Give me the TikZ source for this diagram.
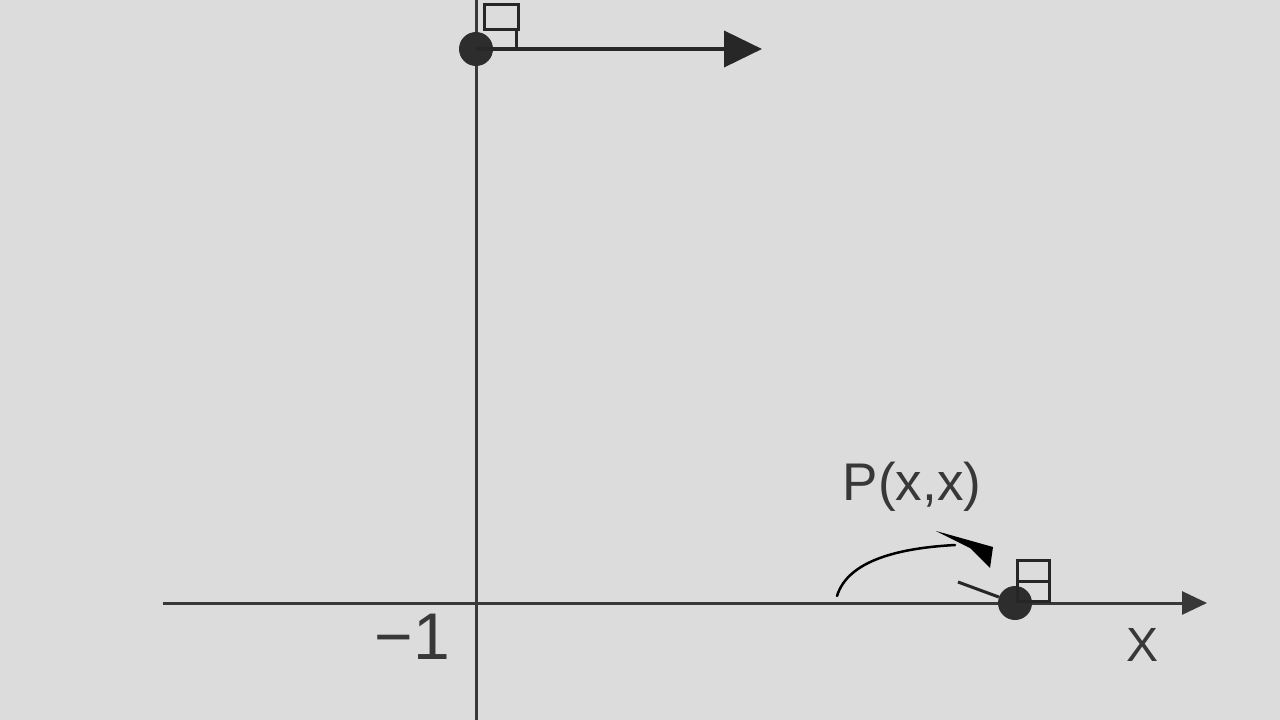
\documentclass[tikz,border=0pt]{standalone}
\usepackage{fontspec}
\setmainfont{Liberation Sans}
\usetikzlibrary{arrows.meta}
\definecolor{bg}{HTML}{DCDCDC}
\definecolor{ink}{HTML}{383838}
\tikzset{
  axis/.style={draw=ink, line width=3pt},
  dot/.style={circle, fill=ink!80!black, minimum size=34pt, inner sep=0pt},
  marker/.style={draw=black!85, line width=3pt},
  lbl/.style={text=ink, inner sep=0pt},
}
\begin{document}
\begin{tikzpicture}[x=1pt,y=-1pt]
\fill[bg] (0,0) rectangle (1280,720);
\useasboundingbox (0,0) rectangle (1280,720);
% axes
\coordinate (vtop) at (476,0);
\coordinate (vbot) at (476,720);
\coordinate (hl) at (163,603);
\coordinate (hr) at (1207,603);
\draw[axis] (vtop) -- (vbot);
\draw[axis, -{Triangle[length=25pt,width=23pt]}] (hl) -- (hr);
% top dot and arrow
\node[dot] (A) at (476,49) {};
\coordinate (Aend) at (762,49);
\draw[draw=ink!70!black, line width=4pt, -{Triangle[length=38pt,width=36pt]}] (A.center) -- (Aend);
\draw[marker] (484,4) rectangle (518,29);
\draw[marker] (516,29) -- (516,48);
% bottom dot
\node[dot] (B) at (1015,603) {};
\draw[marker] (1017,560) rectangle (1049,601);
\draw[marker] (1017,581) -- (1049,581);
% curved pointer
\coordinate (c0) at (837,596);
\coordinate (c1) at (955,545);
\draw[black, line width=2.5pt, line cap=round] (c0) .. controls (848,560) and (900,548) .. (c1);
\fill[black] (936,531) -- (993,547) -- (990,568) -- (970,548) -- cycle;
\coordinate (p0) at (958,582);
\draw[black!85, line width=3pt] (p0) -- (B);
% labels
\node[lbl, font=\fontsize{53}{53}\selectfont] (P) at (912,487) {P(x,x)};
\node[lbl, font=\fontsize{48}{48}\selectfont] (X) at (1142,645) {X};
\node[lbl, font=\fontsize{66}{66}\selectfont, anchor=east] (m1) at (450,637) {\char"2212 1};
\end{tikzpicture}
\end{document}
